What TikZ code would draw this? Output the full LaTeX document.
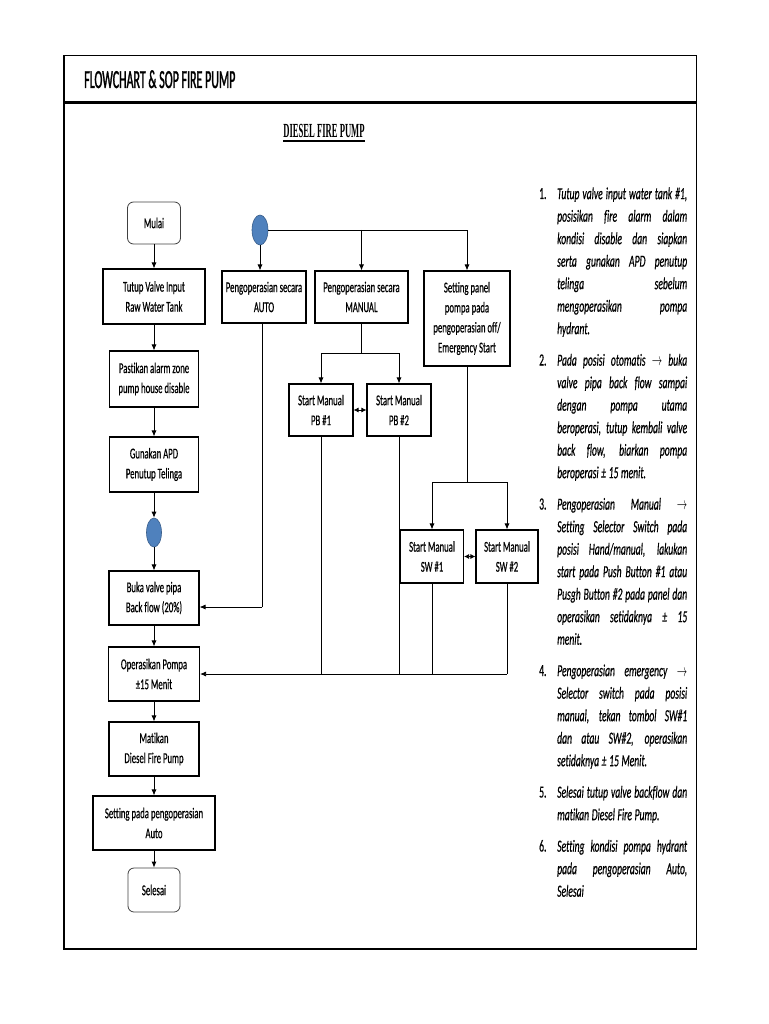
\documentclass[tikz,border=0pt]{standalone}
\usepackage{fontspec}
\usepackage{graphicx}
\usetikzlibrary{arrows.meta,shapes.geometric,calc}
\newfontfamily\boxfont[FakeStretch=0.58,FakeBold=0.5,Ligatures=NoCommon]{Carlito}
\newfontfamily\titlefont[FakeStretch=0.46,FakeBold=1.2,Ligatures=NoCommon]{Carlito}
\newfontfamily\serifttl[FakeStretch=0.43]{Liberation Serif}
\newfontfamily\itemfont[FakeStretch=0.565,FakeBold=0.5,Ligatures=NoCommon]{Carlito}
\definecolor{ellfill}{RGB}{79,129,189}
\definecolor{elldraw}{RGB}{56,93,138}
\newcommand{\jl}[1]{\makebox[130pt][s]{\spaceskip=2.6pt plus 1fil minus 1.3pt\relax\strut #1}}
\newcommand{\lastln}[1]{\spaceskip=2.6pt\relax\strut #1}
\newcommand{\rarr}{\scalebox{0.6}[1]{$\rightarrow$}}
\tikzset{
  box/.style={draw, line width=1.1pt, align=center, inner sep=0pt, font=\boxfont\fontsize{15}{20}\selectfont},
  bx/.style 2 args={box, minimum width=#1, minimum height=#2},
  term/.style 2 args={box, rounded corners=6pt, draw=black!75, line width=0.8pt, minimum width=#1, minimum height=#2},
  ell/.style={ellipse, fill=ellfill, draw=elldraw, line width=0.6pt, minimum width=15pt, minimum height=29pt, inner sep=0pt},
  arr/.style={-{Latex[length=6pt,width=5pt]}, line width=0.8pt},
  dbl/.style={{Latex[length=5pt,width=5pt]}-{Latex[length=5pt,width=5pt]}, line width=0.8pt},
  conn/.style={line width=0.8pt},
  itm/.style={anchor=north west, align=left, inner sep=0pt, text width=130pt, font=\itemfont\itshape\fontsize{17}{22.5}\selectfont},
  num/.style={anchor=base west, inner sep=0pt, font=\itemfont\fontsize{17}{22.5}\selectfont}
}
\begin{document}
\begin{tikzpicture}[x=1pt,y=-1pt]
\useasboundingbox (0,0) rectangle (768,1024);
% frame
\draw[line width=1.2pt] (64,55.7) rectangle (696.7,949);
\draw[line width=2.8pt] (64,102.3) -- (696.7,102.3);
\node[anchor=base west, inner sep=0pt, font=\titlefont\fontsize{26}{30}\selectfont] (title) at (84,88) {FLOWCHART \& SOP FIRE PUMP};
\node[anchor=base, inner sep=0pt, font=\serifttl\bfseries\fontsize{20}{24}\selectfont] (sub) at (324,137.5) {DIESEL FIRE PUMP};
\draw[line width=1.3pt] ($(sub.base west)+(0,3.4)$) -- ($(sub.base east)+(0,3.4)$);

% left column
\node[term={53pt}{42pt}] (mulai) at (154,223) {Mulai};
\node[bx={102pt}{55pt}] (tutup) at (154,296.5) {Tutup Valve Input\\Raw Water Tank};
\node[bx={89pt}{56pt}] (pastikan) at (154,379) {Pastikan alarm zone\\pump house disable};
\node[bx={89pt}{55pt}] (gunakan) at (154,464.5) {Gunakan APD\\Penutup Telinga};
\node[ell] (e1) at (154,532.5) {};
\node[bx={90pt}{54pt}] (buka) at (154,598) {Buka valve pipa\\Back flow (20\%)};
\node[bx={91pt}{54pt}] (oper) at (154,674) {Operasikan Pompa\\±15 Menit};
\node[bx={90pt}{54pt}] (matikan) at (154,749) {Matikan\\Diesel Fire Pump};
\node[bx={122pt}{54pt}] (setauto) at (154,823) {Setting pada pengoperasian\\Auto};
\node[term={52pt}{44pt}] (selesai) at (154,890) {Selesai};

\draw[arr] (mulai) -- (tutup);
\draw[arr] (tutup) -- (pastikan);
\draw[arr] (pastikan) -- (gunakan);
\draw[arr] (gunakan) -- (e1);
\draw[arr] (e1) -- (buka);
\draw[arr] (buka) -- (oper);
\draw[arr] (oper) -- (matikan);
\draw[arr] (matikan) -- (setauto);
\draw[arr] (setauto) -- (selesai);

% top branch
\node[ell, minimum width=16pt, minimum height=30pt] (e2) at (260,230) {};
\node[bx={84pt}{52pt}] (auto) at (264,297) {Pengoperasian secara\\AUTO};
\node[bx={93pt}{52pt}] (manual) at (361.5,297) {Pengoperasian secara\\MANUAL};
\node[bx={86pt}{95pt}] (panel) at (467,318.5) {Setting panel\\pompa pada\\pengoperasian off/\\Emergency Start};
\node[bx={64pt}{52pt}] (pb1) at (321,410) {Start Manual\\PB \#1};
\node[bx={64pt}{52pt}] (pb2) at (399,410) {Start Manual\\PB \#2};
\node[bx={63pt}{53pt}] (sw1) at (432,556.5) {Start Manual\\SW \#1};
\node[bx={62pt}{53pt}] (sw2) at (507,556.5) {Start Manual\\SW \#2};

\draw[arr] (e2.south) -- (e2.south |- auto.north);
\draw[arr] (e2.east) -| (panel.north);
\draw[arr] (manual.north |- e2.east) -- (manual.north);

\coordinate (mj) at (361.5,353);
\draw[conn] (manual.south) -- (mj);
\draw[arr] (mj) -| (pb1.north);
\draw[arr] (mj) -| (pb2.north);
\draw[dbl] (pb1.east) -- (pb2.west);

\coordinate (pj) at (467,482);
\draw[conn] (panel.south) -- (pj);
\draw[arr] (pj) -| (sw1.north);
\draw[arr] (pj) -| (sw2.north);
\draw[dbl] (sw1.east) -- (sw2.west);

\draw[conn] (pb1.south) -- (pb1.south |- oper.east);
\draw[conn] (pb2.south) -- (pb2.south |- oper.east);
\draw[conn] (sw1.south) -- (sw1.south |- oper.east);
\draw[conn] (sw2.south) -- (sw2.south |- oper.east);
\draw[arr] (sw2.south |- oper.east) -- (oper.east);

\coordinate (aj) at (262,607);
\draw[conn] (auto.south -| aj) -- (aj);
\draw[arr] (aj) -- (aj -| buka.east);

% right text
\node[num] (n1) at (539,199) {1.};
\node[itm] (t1) at (557,183.25) {\jl{Tutup valve input water tank \#1,}\\\jl{posisikan fire alarm dalam}\\\jl{kondisi disable dan siapkan}\\\jl{serta gunakan APD penutup}\\\jl{telinga sebelum}\\\jl{mengoperasikan pompa}\\\lastln{hydrant.}};
\node[num] (n2) at (539,365.5) {2.};
\node[itm] (t2) at (557,349.75) {\jl{Pada posisi otomatis \rarr{} buka}\\\jl{valve pipa back flow sampai}\\\jl{dengan pompa utama}\\\jl{beroperasi, tutup kembali valve}\\\jl{back flow, biarkan pompa}\\\lastln{beroperasi ± 15 menit.}};
\node[num] (n3) at (539,509.5) {3.};
\node[itm] (t3) at (557,493.75) {\jl{Pengoperasian Manual \rarr}\\\jl{Setting Selector Switch pada}\\\jl{posisi Hand/manual, lakukan}\\\jl{start pada Push Button \#1 atau}\\\jl{Pusgh Button \#2 pada panel dan}\\\jl{operasikan setidaknya ± 15}\\\lastln{menit.}};
\node[num] (n4) at (539,676) {4.};
\node[itm] (t4) at (557,660.25) {\jl{Pengoperasian emergency \rarr}\\\jl{Selector switch pada posisi}\\\jl{manual, tekan tombol SW\#1}\\\jl{dan atau SW\#2, operasikan}\\\lastln{setidaknya ± 15 Menit.}};
\node[num] (n5) at (539,797.5) {5.};
\node[itm] (t5) at (557,781.75) {\jl{Selesai tutup valve backflow dan}\\\lastln{matikan Diesel Fire Pump.}};
\node[num] (n6) at (539,851.5) {6.};
\node[itm] (t6) at (557,835.75) {\jl{Setting kondisi pompa hydrant}\\\jl{pada pengoperasian Auto,}\\\lastln{Selesai}};
\end{tikzpicture}
\end{document}
